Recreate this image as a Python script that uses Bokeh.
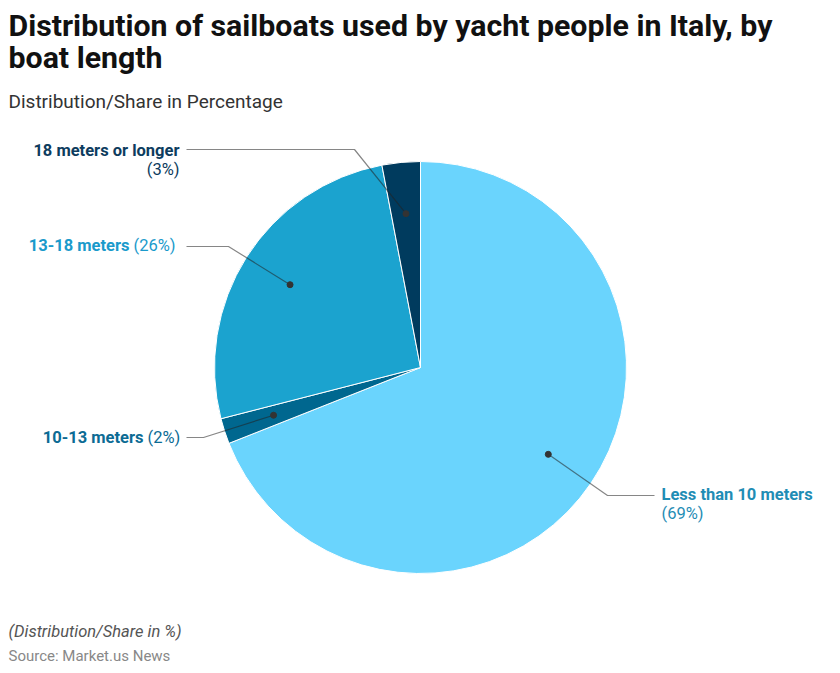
import math
from bokeh.plotting import figure
from bokeh.models import Range1d, ColumnDataSource
from bokeh.embed import file_html
from bokeh.resources import INLINE
from bokeh.core.properties import value

# ---- data ----
categories = ["Less than 10 meters", "10-13 meters", "13-18 meters", "18 meters or longer"]
shares = [69, 2, 26, 3]
slice_colors = ["#6AD4FD", "#00678F", "#1BA3CF", "#003B5E"]
label_colors = ["#1F8DB5", "#0C6B94", "#1A9ACB", "#0D3C5E"]

title_lines = ["Distribution of sailboats used by yacht people in Italy, by", "boat length"]
subtitle = "Distribution/Share in Percentage"
footnote = "(Distribution/Share in %)"
source = "Source: Market.us News"

# ---- layout (pixels, top-left origin) ----
W, H = 824, 665
CX, CY, R = 420, 367, 206
FONT = value("Roboto")

def Y(py):
    return H - py

def TY(baseline, fs):
    # compensate for where the svg backend draws the alphabetic baseline
    return Y(baseline - 0.35 * fs)

p = figure(width=W, height=H, x_range=Range1d(0, W), y_range=Range1d(0, H),
           output_backend="svg", toolbar_location=None, min_border=0)
p.axis.visible = False
p.grid.visible = False
p.outline_line_color = None
p.background_fill_color = "white"
p.border_fill_color = "white"

# slices
starts, ends, mids = [], [], []
acc = 0.0
for v in shares:
    s = math.pi / 2 - 2 * math.pi * acc / 100
    e = math.pi / 2 - 2 * math.pi * (acc + v) / 100
    starts.append(s)
    ends.append(e)
    mids.append((s + e) / 2)
    acc += v

src = ColumnDataSource(dict(start=starts, end=ends, color=slice_colors))
p.wedge(x=CX, y=Y(CY), radius=R, start_angle="start", end_angle="end",
        direction="clock", fill_color="color", line_color="white", line_width=1,
        source=src)

# label layout: (elbow_x, line_y, end_x, text_x, align, name_baseline, pct_baseline or None, pct_x)
layout = {
    "Less than 10 meters": (607, 495, 654, 661, "left", 500, 519, None),
    "10-13 meters": (203, 437, 186, 143, "right", 443, None, 147),
    "13-18 meters": (228, 246, 186, 129, "right", 251, None, 133),
    "18 meters or longer": (354, 149, 186, 179, "right", 156, 175, None),
}
LFS = 16.5

dot_x, dot_y = [], []
for cat, v, col, m in zip(categories, shares, label_colors, mids):
    dx = CX + 0.75 * R * math.cos(m)
    dy = CY - 0.75 * R * math.sin(m)
    dot_x.append(dx)
    dot_y.append(Y(dy))
    ex, ly, endx, tx, align, nb, pb, px = layout[cat]
    p.line(x=[dx, ex, endx], y=[Y(dy), Y(ly), Y(ly)], line_color="#222222",
           line_alpha=0.55, line_width=1.2)
    p.text(x=[tx], y=[TY(nb, LFS)], text=[cat], text_font=FONT, text_font_size=f"{LFS}px",
           text_font_style="bold", text_color=col, text_align=align,
           text_baseline="alphabetic")
    pct = f"({v}%)"
    if pb is not None:
        p.text(x=[tx], y=[TY(pb, LFS)], text=[pct], text_font=FONT, text_font_size=f"{LFS}px",
               text_color=col, text_align=align, text_baseline="alphabetic")
    else:
        p.text(x=[px], y=[TY(nb, LFS)], text=[pct], text_font=FONT, text_font_size=f"{LFS}px",
               text_color=col, text_align="left", text_baseline="alphabetic")

p.scatter(x=dot_x, y=dot_y, size=6, fill_color="#333333", line_color="#333333")

# titles
p.text(x=[8, 8], y=[TY(36, 30.3), TY(67.5, 30.3)], text=title_lines, text_font=FONT,
       text_font_size="30.3px", text_font_style="bold", text_color="#111111",
       text_align="left", text_baseline="alphabetic")
p.text(x=[8], y=[TY(108, 19)], text=[subtitle], text_font=FONT, text_font_size="19px",
       text_color="#333333", text_align="left", text_baseline="alphabetic")
p.text(x=[8], y=[TY(637, 16.5)], text=[footnote], text_font=FONT, text_font_size="16.5px",
       text_font_style="italic", text_color="#555555", text_align="left",
       text_baseline="alphabetic")
p.text(x=[8], y=[TY(661, 15)], text=[source], text_font=FONT, text_font_size="15px",
       text_color="#888888", text_align="left", text_baseline="alphabetic")

open("out.html", "w").write(file_html(p, INLINE))
